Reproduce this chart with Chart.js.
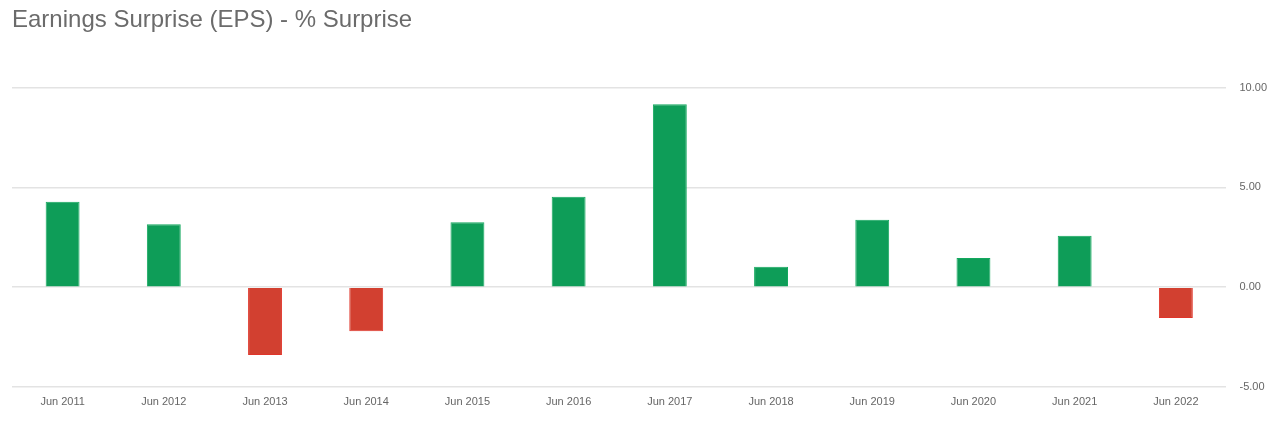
<!DOCTYPE html>
<html>
<head>
<meta charset="utf-8">
<script src="https://cdn.jsdelivr.net/npm/chart.js@4/dist/chart.umd.min.js"></script>
<style>
html,body{margin:0;padding:0;background:#fff;}
#wrap{position:relative;width:1280px;height:438px;}
canvas{display:block;}
</style>
</head>
<body>
<div id="wrap"><canvas id="c" width="1280" height="438"></canvas></div>
<script>
const categories = ["Jun 2011","Jun 2012","Jun 2013","Jun 2014","Jun 2015","Jun 2016","Jun 2017","Jun 2018","Jun 2019","Jun 2020","Jun 2021","Jun 2022"];
const surprisePct = [4.28, 3.16, -3.41, -2.21, 3.26, 4.54, 9.17, 1.02, 3.38, 1.46, 2.58, -1.55];
const yTicks = [-5, 0, 5, 10];

const GREEN = '#0e9d58', GREEN_B = '#13a85e';
const RED = '#d24030', RED_B = '#e0352a';

new Chart(document.getElementById('c'), {
  type: 'bar',
  data: {
    labels: categories,
    datasets: [{
      label: '% Surprise',
      data: surprisePct,
      backgroundColor: surprisePct.map(v => v >= 0 ? GREEN : RED),
      borderColor: surprisePct.map(v => v >= 0 ? GREEN_B : RED_B),
      borderWidth: 1,
      categoryPercentage: 1,
      barPercentage: 0.335
    }]
  },
  options: {
    responsive: false,
    animation: false,
    devicePixelRatio: 1,
    layout: { padding: { left: 12, right: 0, top: 0, bottom: 20 } },
    plugins: {
      legend: { display: false },
      tooltip: { enabled: false },
      title: {
        display: true,
        text: 'Earnings Surprise (EPS) - % Surprise',
        align: 'start',
        color: '#6b6b6b',
        font: { family: 'Liberation Sans, Arial, sans-serif', size: 24, weight: 'normal' },
        padding: { top: 6, bottom: 53 }
      }
    },
    scales: {
      x: {
        grid: { display: false, drawTicks: false },
        border: { display: false },
        ticks: {
          color: '#666',
          font: { family: 'Liberation Sans, Arial, sans-serif', size: 11 },
          padding: 9,
          maxRotation: 0,
          autoSkip: false
        }
      },
      y: {
        position: 'right',
        min: yTicks[0],
        max: yTicks[yTicks.length - 1],
        afterBuildTicks: axis => { axis.ticks = yTicks.map(v => ({ value: v })); },
        grid: { color: '#e3e3e3', lineWidth: 1.5, drawTicks: false },
        border: { display: false },
        ticks: {
          color: '#666',
          font: { family: 'Liberation Sans, Arial, sans-serif', size: 11 },
          padding: 13,
          callback: v => Number(v).toFixed(2)
        }
      }
    }
  }
});
</script>
</body>
</html>
